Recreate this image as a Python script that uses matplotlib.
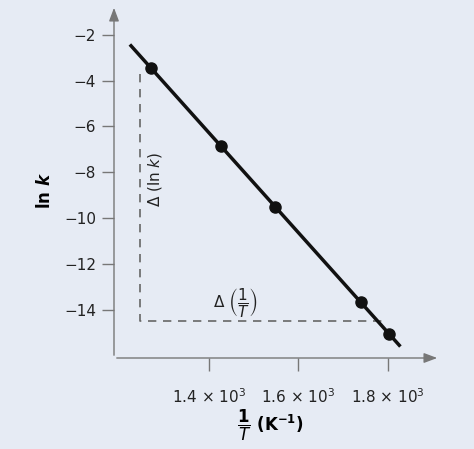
import matplotlib
matplotlib.use("Agg")
import matplotlib.pyplot as plt
import numpy as np

inv_T = [1.270, 1.427, 1.547, 1.739, 1.802]
ln_k = [-3.44, -6.85, -9.5, -13.65, -15.05]
line_x = [1.226, 1.825]
yticks = [-2, -4, -6, -8, -10, -12, -14]
xticks = [1.4, 1.6, 1.8]
xticklabels = [r"1.4 $\times$ 10$^3$", r"1.6 $\times$ 10$^3$", r"1.8 $\times$ 10$^3$"]

bg = "#e6ebf4"
fig = plt.figure(figsize=(4.74, 4.49), dpi=100, facecolor=bg)
ax = fig.add_axes([114/474, 1-358/449, 326/474, 353/449], facecolor=bg)
ax.set_xlim(1.188, 1.916)
ax.set_ylim(-16.1, -0.7)
for s in ax.spines.values():
    s.set_visible(False)
ax.annotate("", xy=(1, 0), xytext=(0, 0), xycoords="axes fraction",
            arrowprops=dict(arrowstyle="-|>,head_width=0.3,head_length=0.8", color="#777777", lw=1))
ax.annotate("", xy=(0, 1), xytext=(0, 0), xycoords="axes fraction",
            arrowprops=dict(arrowstyle="-|>,head_width=0.3,head_length=0.8", color="#777777", lw=1))
ax.set_yticks(yticks)
ax.set_yticklabels([f"\u2212{abs(v)}" for v in yticks])
ax.set_xticks(xticks)
ax.set_xticklabels(xticklabels)
ax.tick_params(axis="both", direction="out", colors="#777777", labelcolor="#222222",
               labelsize=11, length=9, width=1)
ax.tick_params(axis="x", pad=12)
ax.tick_params(axis="y", pad=4)

p = np.polyfit(inv_T, ln_k, 1)
lx = np.array(line_x)
ax.plot(lx, np.polyval(p, lx), color="#111111", lw=2.5, zorder=3)
ax.plot(inv_T, ln_k, "o", color="#111111", ms=8, zorder=4)

ax.plot([1.246, 1.246, 1.79], [-3.7, -14.5, -14.5], ls=(0, (5, 4)), color="#666666", lw=1.2)
ax.text(1.26, -8.3, r"$\Delta$ (ln $k$)", rotation=90, ha="left", va="center", fontsize=11, color="#222222")
ax.text(1.46, -13.7, r"$\Delta$ $\left(\dfrac{1}{T}\right)$", ha="center", va="center", fontsize=11, color="#222222")

fig.text(45/474, 1-190/449, r"ln $\boldsymbol{k}$", rotation=90, ha="center", va="center", fontsize=12, fontweight="bold")
fig.text(270/474, 1-425/449, r"$\mathbf{\dfrac{1}{\mathit{T}}}$ (K$^{\mathbf{-1}}$)", ha="center", va="center", fontsize=12, fontweight="bold")
fig.savefig("out.png", dpi=100, facecolor=bg)
